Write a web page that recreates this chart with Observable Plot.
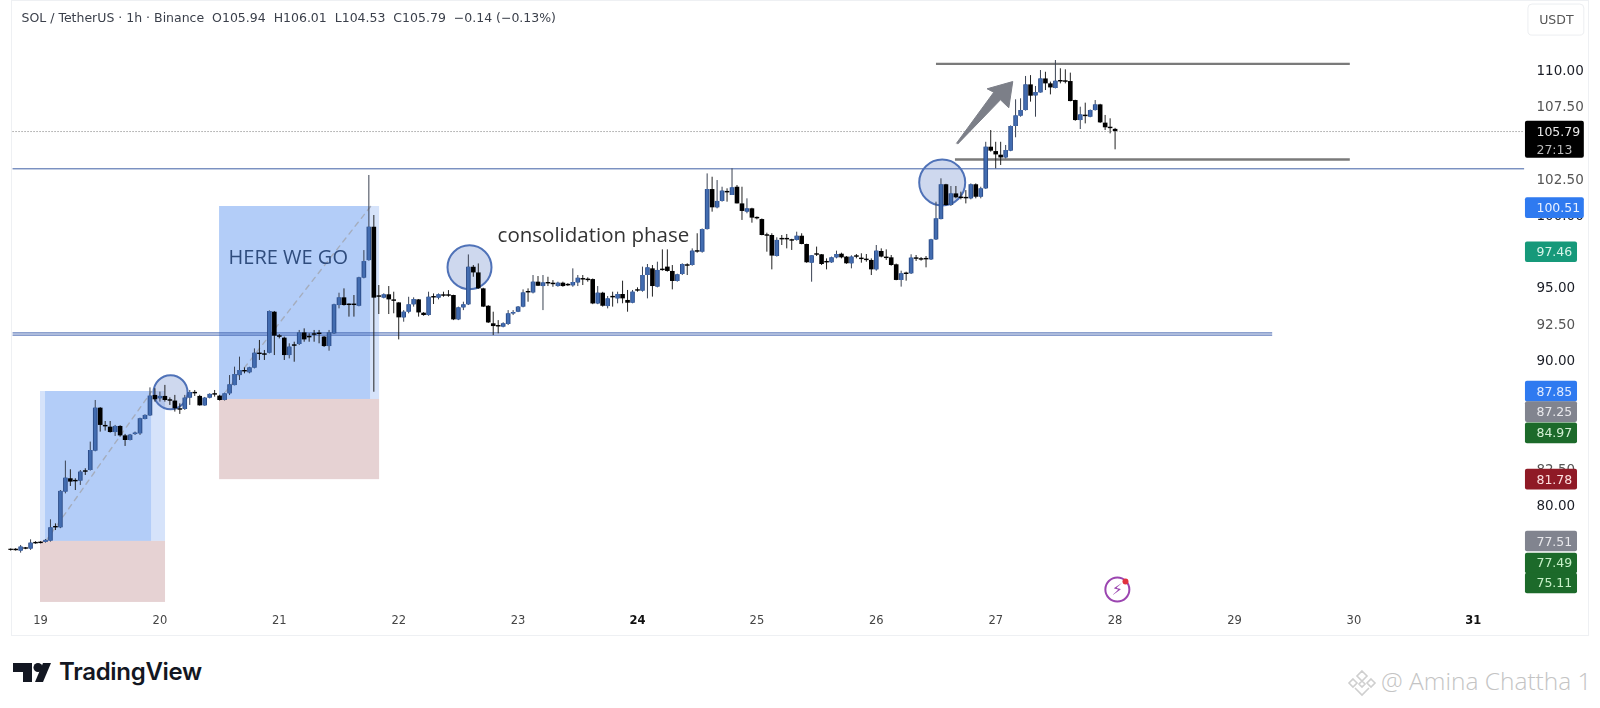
<!DOCTYPE html>
<html><head><meta charset="utf-8">
<style>
html,body{margin:0;padding:0;background:#fff;overflow:hidden}
#wrap{position:relative;width:1600px;height:708px}
#foot{position:relative;width:1600px;height:72px;background:#fff}
#logo{position:absolute;left:13px;top:27px}
#brand{position:absolute;left:59px;top:21px;font:600 24px Inter,sans-serif;color:#131722;letter-spacing:-.3px}
#mark{position:absolute;left:1347px;top:32px}
#wm{position:absolute;left:1381px;top:28px;font:300 24.5px "Open Sans",sans-serif;color:#c4c4c4;white-space:nowrap}
</style>
<script src="https://cdn.jsdelivr.net/npm/d3@7"></script>
<script src="https://cdn.jsdelivr.net/npm/@observablehq/plot@0.6"></script>
</head><body>
<div id="wrap"><div id="chart"></div>
<div id="foot">
<svg id="logo" width="38" height="20" viewBox="0 0 38 20"><path fill="#131722" d="M0 0H19V19H10V9H0Z"/><circle fill="#131722" cx="25" cy="4.5" r="4.5"/><path fill="#131722" d="M30 0H38L30 19H22Z"/></svg>
<div id="brand">TradingView</div>
<svg id="mark" width="30" height="30" viewBox="0 0 30 30" fill="none" stroke="#cfcfcf" stroke-width="1.6"><path d="M15 3l5 5-5 5-5-5zM6 11l4 4-4 4-4-4zM24 11l4 4-4 4-4-4zM15 13l3 3-3 3-3-3zM8 20l7 7 7-7"/></svg>
<div id="wm">@ Amina Chattha 1</div>
</div></div>
<script>
// Hourly candle prices; the entry for day tick "19" is the seventh
const opens=[76.98,76.98,76.85,77.08,76.99,77.45,77.47,77.45,77.54,78.55,78.46,80.92,81.84,81.73,81.68,82.39,82.41,83.75,86.71,85.52,85.40,85.03,85.45,84.80,84.48,84.89,84.94,85.93,86.18,87.59,87.36,87.52,87.29,87.20,86.67,86.62,87.40,87.80,87.52,86.87,87.40,87.71,87.54,87.24,87.70,88.27,88.96,89.31,89.15,89.47,90.51,90.46,90.50,93.33,91.70,91.54,90.34,91.08,91.10,91.90,91.66,91.84,91.89,91.61,90.96,91.84,93.79,94.32,93.89,93.89,93.74,95.68,96.89,99.19,94.46,94.30,94.53,94.18,93.97,92.94,93.33,93.84,94.18,93.26,93.10,94.41,94.30,94.53,94.53,94.48,92.80,93.63,93.84,96.43,96.04,94.94,93.74,92.53,92.41,92.30,92.48,93.21,93.33,93.68,94.76,94.66,95.40,95.10,95.38,95.33,95.10,95.33,95.25,95.15,95.35,95.65,95.61,95.58,93.90,94.64,93.72,94.42,94.25,94.55,94.14,93.95,94.88,94.78,95.86,96.32,95.06,96.30,96.44,96.14,95.45,95.93,96.60,96.55,97.57,97.47,99.03,101.79,100.53,100.97,101.66,101.38,101.95,100.80,100.23,100.46,99.87,99.72,98.67,98.62,97.17,98.42,98.42,98.33,98.28,98.57,98.00,96.71,97.36,97.29,96.83,96.74,97.08,97.33,97.13,96.67,97.22,97.06,96.99,96.90,96.25,97.52,97.13,97.08,96.60,95.52,96.03,95.98,97.08,97.02,97.04,96.94,98.32,99.72,102.12,100.69,101.49,101.27,101.25,101.15,102.12,101.26,101.84,104.71,104.41,104.16,103.97,104.44,106.14,106.85,107.24,109.01,108.25,108.46,109.42,109.08,108.76,109.31,109.29,109.24,107.93,106.55,106.92,106.78,107.24,107.63,106.37,106.09,105.94];
const highs=[77.00,77.02,77.24,77.10,77.63,77.50,77.50,77.65,79.01,78.73,81.03,83.06,82.46,81.84,82.41,82.53,84.37,87.24,86.75,85.79,85.79,85.52,85.50,84.90,84.90,85.06,86.02,86.25,88.11,88.05,87.82,88.28,87.42,87.59,87.01,87.59,87.93,87.93,87.60,87.45,87.70,87.93,87.60,87.75,88.96,89.54,90.23,89.49,89.53,90.80,91.38,90.69,93.42,93.38,91.79,91.61,91.15,91.26,92.07,92.18,91.84,92.07,92.07,91.65,92.07,93.88,94.64,94.94,93.90,94.48,95.74,97.58,102.76,100.00,95.17,94.60,95.10,94.71,93.99,93.44,94.36,94.32,94.20,93.30,94.71,94.59,94.59,94.71,94.82,94.50,93.68,94.02,97.28,96.55,96.66,94.98,93.78,93.33,92.75,92.60,93.44,93.44,93.72,94.87,94.94,95.86,95.79,95.86,95.74,95.51,95.40,95.40,95.30,96.32,95.86,95.86,95.70,95.62,95.10,94.70,94.41,94.71,94.71,95.47,94.83,94.83,95.01,96.44,96.62,96.55,96.78,97.63,97.63,96.55,95.95,96.67,96.67,97.70,98.74,99.07,102.87,102.64,102.41,101.95,101.84,103.22,102.07,101.95,101.15,100.50,99.90,99.76,98.78,98.74,98.46,98.62,98.69,98.36,98.85,98.74,98.02,97.24,97.82,97.31,97.01,97.13,97.54,97.40,97.17,97.22,97.31,97.36,97.31,97.01,97.93,97.70,97.63,97.24,96.65,96.16,96.09,97.29,97.24,97.10,97.17,98.36,100.92,102.53,102.15,102.00,102.00,101.61,101.72,102.18,102.18,101.95,105.05,105.86,105.05,105.05,104.83,106.18,107.98,108.05,109.59,109.65,108.90,110.00,109.88,109.20,110.69,110.12,110.05,109.82,107.95,107.47,107.75,107.28,107.93,107.67,106.90,106.67,106.01];
const lows=[76.85,76.85,76.71,76.95,76.90,77.33,77.35,77.40,77.47,78.27,78.40,80.80,81.31,81.03,81.38,82.07,82.37,83.70,85.06,85.13,84.99,84.76,84.71,84.07,84.45,84.83,84.83,85.90,86.15,87.13,87.13,87.13,86.90,86.44,86.28,86.55,86.90,87.52,86.85,86.85,87.35,87.47,87.20,87.20,87.58,88.25,88.62,89.08,89.08,89.42,90.00,90.00,90.45,90.34,91.49,90.00,90.11,89.88,91.03,91.26,91.26,91.26,91.15,90.90,90.64,91.80,93.56,93.75,92.99,92.99,93.70,95.63,96.85,87.81,93.17,94.25,93.17,93.22,91.42,92.64,93.22,93.68,92.99,93.05,93.05,93.86,94.18,94.36,94.36,92.75,92.75,93.44,93.79,95.74,94.90,93.65,92.55,91.72,91.84,92.25,92.41,93.10,93.30,93.63,94.02,94.59,95.10,93.44,95.10,95.05,95.05,95.05,95.10,95.05,95.10,95.17,95.40,93.85,93.85,93.68,93.56,93.68,93.91,93.91,93.33,93.91,94.71,94.71,94.25,94.37,95.01,96.16,96.09,94.87,95.40,95.86,95.86,96.50,97.40,97.40,99.00,100.23,100.46,100.92,100.92,101.38,100.80,99.66,100.12,99.47,99.70,98.60,97.47,96.25,97.13,97.93,97.70,97.59,98.23,97.98,96.70,95.40,97.17,96.55,96.25,96.70,97.01,97.01,96.63,96.32,97.01,96.71,96.78,95.86,96.16,97.08,96.90,96.50,95.50,95.06,95.47,95.93,96.83,96.85,96.39,96.90,98.28,99.70,100.65,100.62,101.15,101.08,100.80,101.08,101.15,101.15,101.80,104.37,103.22,103.45,103.90,104.40,105.36,106.78,107.20,107.82,106.78,108.44,108.62,108.32,108.73,109.08,109.08,107.84,106.50,105.93,106.32,106.74,107.20,106.35,105.86,105.63,104.53];
const closes=[76.90,76.88,77.13,76.98,77.40,77.35,77.37,77.59,78.46,78.45,80.97,81.88,81.61,81.63,82.30,82.29,83.79,86.71,85.52,85.42,85.03,85.45,84.80,84.48,84.85,84.99,85.98,86.21,87.54,87.29,87.52,87.24,87.19,86.67,86.57,87.40,87.79,87.70,86.87,87.40,87.66,87.61,87.24,87.70,88.32,89.03,89.31,89.21,89.49,90.50,90.41,90.36,93.38,91.68,91.60,90.34,90.92,90.98,91.90,91.42,91.56,91.74,91.79,90.96,91.90,93.84,94.32,93.79,93.79,93.79,95.70,96.82,99.19,94.30,94.36,94.53,94.18,94.08,92.94,93.33,93.84,94.20,93.28,93.10,94.36,94.31,94.53,94.43,94.43,92.80,93.63,93.84,96.43,96.04,94.94,93.68,92.59,92.34,92.31,92.53,93.22,93.31,93.68,94.66,94.66,95.40,95.12,95.35,95.28,95.23,95.33,95.10,95.15,95.38,95.67,95.55,95.51,93.90,94.64,93.74,94.25,94.32,94.55,94.25,93.95,94.71,94.78,95.86,96.39,95.10,96.21,96.20,96.14,95.45,95.91,96.62,96.50,97.54,97.47,99.03,101.79,100.53,100.97,101.68,101.56,101.91,100.80,100.28,100.46,99.82,99.77,98.62,98.57,97.20,98.28,98.32,98.32,98.23,98.57,98.00,96.74,97.22,97.26,96.62,96.73,97.08,97.31,97.08,96.67,97.13,97.12,96.96,96.89,96.25,97.54,97.13,97.03,96.55,95.52,95.98,95.93,97.06,96.98,96.92,96.94,98.32,99.77,102.12,100.69,101.49,101.22,101.17,101.15,102.12,101.26,101.84,104.71,104.44,104.18,103.97,104.48,106.14,106.87,107.24,109.01,108.23,108.48,109.42,109.08,108.80,109.26,109.21,109.19,107.86,106.55,106.94,106.82,107.24,107.63,106.39,106.05,105.99,105.79];
const firstDay=18.75;
const candles=opens.map((o,i)=>({t:firstDay+i/24,o,h:Math.max(highs[i],o,closes[i]),l:Math.min(lows[i],o,closes[i]),c:closes[i]}));
const up=candles.filter(d=>d.c>=d.o), down=candles.filter(d=>d.c<d.o);

const dayTicks=[19,20,21,22,23,25,26,27,28,29,30];
const boldDayTicks=[24,31];
const minorPrices=[107.5,102.5,92.5,82.5];
const majorPrices=[110,100,95,90,80];

const labelValues=["100.51","97.46","87.85","87.25","84.97","81.78","77.51","77.49","75.11"];
const labelAt=[100.51,97.46,87.85,86.44,84.97,81.78,77.51,76.0,74.62];
const labelFill=["#2f7af0","#16997a","#2f7af0","#81848f","#1c6a2a","#8f1a26","#81848f","#1c6a2a","#1c6a2a"];
const labelText=["#e8f0ff","#d8f5ea","#e0ebff","#e8e8ec","#d5f0d5","#fde0e0","#e8e8ec","#c8f0c8","#c8f0c8"];
const labels=labelValues.map((v,i)=>({v,at:labelAt[i],fill:labelFill[i],text:labelText[i],right:i===0?31.93:31.873}));

const arrow=[[26.672,104.99],[26.984,108.50],[26.928,108.74],[27.143,109.24],[27.110,107.43],[27.040,107.98],[26.683,104.94]];
const circles=[{t:20.089,p:87.81,r:17},{t:22.593,p:96.43,r:22},{t:26.552,p:102.28,r:23}];
const halfBox=0.71;
const header="SOL / TetherUS · 1h · Binance\u00a0\u00a0O105.94\u00a0\u00a0H106.01\u00a0\u00a0L104.53\u00a0\u00a0C105.79\u00a0\u00a0\u22120.14 (\u22120.13%)";

const plot=Plot.plot({
  width:1600,height:636,marginLeft:11,marginRight:12,marginTop:0,marginBottom:1,
  style:{fontFamily:"'DejaVu Sans',sans-serif",background:"#fff",filter:"blur(0.35px)"},
  x:{domain:[18.757,31.965]},
  y:{domain:[71.03,114.83]},
  r:{type:"identity"},
  marks:[
    Plot.frame({stroke:"#eef0f3"}),
    // position boxes
    Plot.rect([{a:19,b:20.047,y1:77.52,y2:87.86}],{x1:"a",x2:"b",y1:"y1",y2:"y2",fill:"#d6e3fa"}),
    Plot.rect([{a:19.042,b:19.93,y1:77.52,y2:87.86}],{x1:"a",x2:"b",y1:"y1",y2:"y2",fill:"#b3cdf8"}),
    Plot.rect([{a:19,b:20.047,y1:73.31,y2:77.52}],{x1:"a",x2:"b",y1:"y1",y2:"y2",fill:"#e6d2d3"}),
    Plot.rect([{a:20.5,b:21.84,y1:87.31,y2:100.62}],{x1:"a",x2:"b",y1:"y1",y2:"y2",fill:"#d6e3fa"}),
    Plot.rect([{a:20.5,b:21.764,y1:87.31,y2:100.62}],{x1:"a",x2:"b",y1:"y1",y2:"y2",fill:"#b3cdf8"}),
    Plot.rect([{a:20.5,b:21.84,y1:81.78,y2:87.31}],{x1:"a",x2:"b",y1:"y1",y2:"y2",fill:"#e6d2d3"}),
    Plot.line([[19.042,77.52],[19.93,87.86]],{stroke:"#a5adbd",strokeWidth:1.4,strokeDasharray:"5 5"}),
    Plot.line([[20.5,87.31],[21.764,100.62]],{stroke:"#a5adbd",strokeWidth:1.4,strokeDasharray:"5 5"}),
    // levels
    Plot.ruleY([105.79],{x1:18.77,x2:31.43,stroke:"#777",strokeWidth:1,strokeDasharray:"1 2"}),
    Plot.ruleY([103.22],{x1:18.77,x2:31.43,stroke:"#3f5fa5",strokeWidth:1}),
    Plot.ruleY([91.9,91.75],{x1:18.77,x2:29.32,stroke:"#3a5cab",strokeWidth:1}),
    Plot.ruleY([110.46],{x1:26.504,x2:29.97,stroke:"#7a7a7a",strokeWidth:2.4}),
    Plot.ruleY([103.86],{x1:26.663,x2:29.97,stroke:"#7a7a7a",strokeWidth:2.4}),
    Plot.line(arrow,{fill:"#7c7f88",stroke:"#7c7f88",strokeWidth:1}),
    // circles
    Plot.dot(circles,{x:"t",y:"p",r:"r",fill:"#4a6fbf",fillOpacity:0.27,stroke:"#4f72b8",strokeWidth:2}),
    // candles
    Plot.ruleX(up,{x:"t",y1:"l",y2:"h",stroke:"#3a4252",strokeWidth:1}),
    Plot.ruleX(down,{x:"t",y1:"l",y2:"h",stroke:"#222",strokeWidth:1}),
    Plot.ruleX(up,{x:"t",y1:"o",y2:"c",stroke:"#2a4a86",strokeWidth:4.6}),
    Plot.ruleX(up,{x:"t",y1:"o",y2:"c",stroke:"#426cb0",strokeWidth:2.8}),
    Plot.ruleX(down,{x:"t",y1:"o",y2:"c",stroke:"#000",strokeWidth:4.6}),
    // annotations
    Plot.text(["HERE WE GO"],{x:20.575,y:97.1,textAnchor:"start",fontSize:20,fill:"#2f4c7d",fontFamily:"'Open Sans',sans-serif"}),
    Plot.text(["consolidation phase"],{x:22.828,y:98.62,textAnchor:"start",fontSize:20.5,fill:"#333",fontFamily:"'Open Sans',sans-serif"}),
    Plot.text([header],{frameAnchor:"top-left",dx:10,dy:13,fontSize:12.5,fill:"#3a3f4a"}),
    // axes
    Plot.axisX(dayTicks,{anchor:"bottom",tickSize:0,tickPadding:-20,tickFormat:d=>String(d),fontSize:11.5,fill:"#444"}),
    Plot.axisX(boldDayTicks,{anchor:"bottom",tickSize:0,tickPadding:-20,tickFormat:d=>String(d),fontSize:11.5,fill:"#111",fontWeight:"bold"}),
    Plot.axisY(minorPrices,{anchor:"right",tickSize:0,tickPadding:-52,tickFormat:d3.format(".2f"),fontSize:13.5,fill:"#555"}),
    Plot.axisY(majorPrices,{anchor:"right",tickSize:0,tickPadding:-52,tickFormat:d3.format(".2f"),fontSize:13.5,fill:"#1a1d26"}),
    // price tags
    Plot.rect([{a:31.437,b:31.93,y1:103.95,y2:106.5}],{x1:"a",x2:"b",y1:"y1",y2:"y2",fill:"#000",r:2}),
    Plot.text(["105.79"],{x:31.529,y:105.75,textAnchor:"start",fontSize:12.5,fill:"#e8e8e8"}),
    Plot.text(["27:13"],{x:31.529,y:104.55,textAnchor:"start",fontSize:12.5,fill:"#bbb"}),
    Plot.rect(labels,{x1:31.437,x2:"right",y1:d=>d.at-halfBox,y2:d=>d.at+halfBox,fill:"fill",r:2}),
    Plot.text(labels,{x:31.529,y:"at",text:"v",fill:"text",textAnchor:"start",fontSize:12.5}),
    // currency button
    Plot.rect([{a:31.462,b:31.93,y1:112.41,y2:114.55}],{x1:"a",x2:"b",y1:"y1",y2:"y2",fill:"#fff",stroke:"#eceef1",r:4}),
    Plot.text(["USDT"],{x:31.696,y:113.48,fontSize:12.5,fill:"#555"}),
    // alert icon
    Plot.dot([[28.019,74.2]],{r:12,stroke:"#9b45b0",strokeWidth:2,fill:"none"}),
    Plot.text(["\u26A1"],{x:28.019,y:74.2,fontSize:16,fill:"#9b45b0"}),
    Plot.dot([[28.087,74.76]],{r:3,fill:"#e0313f"})
  ]
});
document.getElementById("chart").appendChild(plot);
</script>
</body></html>
